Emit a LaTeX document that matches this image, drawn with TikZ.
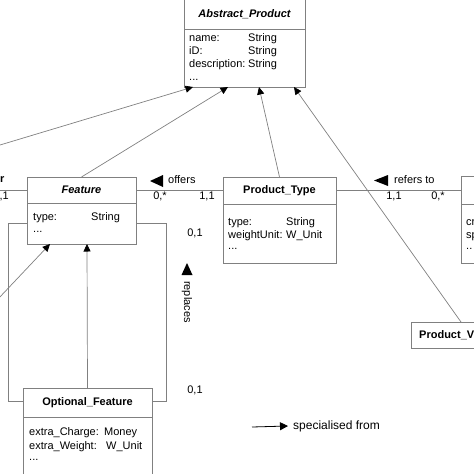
\documentclass[tikz,border=0pt]{standalone}
\usepackage{fontspec}
\setmainfont{Liberation Sans}
\usetikzlibrary{arrows.meta}
\definecolor{linegray}{gray}{0.5}
\begin{document}
\begin{tikzpicture}[x=1pt,y=1pt,
  boxs/.style={draw=linegray, line width=0.7pt, inner sep=0pt, outer sep=0pt, anchor=north west},
  conn/.style={draw=linegray, line width=0.7pt},
  spec/.style={conn, -{Triangle[length=7.5pt,width=7pt,fill=black,color=black]}},
  txt/.style={inner sep=0pt, text height=8pt, text depth=2pt, font=\fontsize{11}{13}\selectfont},
  attr/.style={txt, anchor=west},
  ttl/.style={txt, font=\fontsize{11}{13}\selectfont\bfseries},
  ttli/.style={txt, font=\fontsize{11}{13}\selectfont\bfseries\itshape},
  trifill/.style={fill=black},
]
\useasboundingbox (0,0) rectangle (474,-474);
\clip (0,0) rectangle (474,-474);

% Abstract_Product
\node[boxs, minimum width=121pt, minimum height=89pt] (ap) at (184,2) {};
\draw[conn] (184,-29) -- (305,-29);
\node[ttli] (apt) at (244.5,-14) {Abstract\_Product};
\node[attr] (ap1) at (189,-38) {name:};
\node[attr] (ap1t) at (248,-38) {String};
\node[attr] (ap2) at (189,-51) {iD:};
\node[attr] (ap2t) at (248,-51) {String};
\node[attr] (ap3) at (189,-64) {description:};
\node[attr] (ap3t) at (248,-64) {String};
\node[attr] (ap4) at (189,-77) {...};

% Feature
\node[boxs, minimum width=109pt, minimum height=67pt] (feat) at (27,-177) {};
\draw[conn] (27,-203) -- (136,-203);
\node[ttli] (featt) at (81.5,-190) {Feature};
\node[attr] (f1) at (33,-217) {type:};
\node[attr] (f1t) at (91,-217) {String};
\node[attr] (f2) at (33,-229) {...};

% Product_Type
\node[boxs, minimum width=113pt, minimum height=86pt] (pt) at (223,-177) {};
\draw[conn] (223,-204) -- (336,-204);
\node[ttl] (ptt) at (279.5,-190) {Product\_Type};
\node[attr] (p1) at (228,-222) {type:};
\node[attr] (p1t) at (286,-222) {String};
\node[attr] (p2) at (228,-235) {weightUnit:};
\node[attr] (p2t) at (286,-235) {W\_Unit};
\node[attr] (p3) at (228,-246) {...};

% right box (cut off)
\node[boxs, minimum width=60pt, minimum height=87pt] (rb) at (461,-176) {};
\draw[conn] (461,-204) -- (521,-204);
\node[attr] (r1) at (466,-222) {cr};
\node[attr] (r2) at (466,-235) {sp};
\node[attr] (r3) at (466,-246) {..};

% Product_V (cut off)
\node[boxs, minimum width=80pt, minimum height=26pt] (pv) at (411,-322) {};
\node[ttl, anchor=west] (pvt) at (419,-335) {Product\_V};

% Optional_Feature
\node[boxs, minimum width=129pt, minimum height=100pt] (of) at (23,-388) {};
\draw[conn] (23,-417) -- (152,-417);
\node[ttl] (oft) at (87.5,-402) {Optional\_Feature};
\node[attr] (o1) at (29,-432) {extra\_Charge:};
\node[attr] (o1t) at (104,-432) {Money};
\node[attr] (o2) at (29,-446) {extra\_Weight:};
\node[attr] (o2t) at (106,-446) {W\_Unit};
\node[attr] (o3) at (29,-457) {...};

% free ends
\coordinate (c1) at (-2,-145.6);
\coordinate (c5) at (-2,-299);
\coordinate (c9) at (-2,-190);
\coordinate (lbend) at (8,-401);
\coordinate (rbend) at (166,-401);

% specialisation arrows
\draw[spec] (c1) -- ([xshift=9pt]ap.south west);
\draw[spec] (feat.north) -- ([xshift=44pt]ap.south west);
\draw[spec] (pt.north) -- ([xshift=75pt]ap.south west);
\draw[spec] ([xshift=50pt]pv.north west) -- ([xshift=110pt]ap.south west);
\draw[spec] (c5) -- ([xshift=23pt]feat.south west);
\draw[spec] (of.north) -- ([xshift=60pt]feat.south west);

% associations
\draw[conn] (c9) -- ([yshift=-13pt]feat.north west);
\draw[conn] ([yshift=-13pt]feat.north east) -- ([yshift=-13pt]pt.north west);
\draw[conn] ([yshift=-13pt]pt.north east) -- ([yshift=-14pt]rb.north west);
\draw[conn] ([yshift=-46pt]feat.north west) -| (lbend) -- ([yshift=-13pt]of.north west);
\draw[conn] ([yshift=-46pt]feat.north east) -| (rbend) -- ([yshift=-13pt]of.north east);

% association labels
\node[ttl, anchor=west] (lr) at (0,-179) {r};
\node[txt, anchor=east] (lm) at (9,-196) {1,1};
\fill[trifill] (150,-181) -- (163,-175) -- (163,-187) -- cycle;
\node[attr] (offers) at (168,-180) {offers};
\node[txt] (m1) at (160,-196) {0,*};
\node[txt] (m2) at (207,-196) {1,1};
\fill[trifill] (374,-180.5) -- (388,-175) -- (388,-186) -- cycle;
\node[attr] (refers) at (394,-180) {refers to};
\node[txt] (m3) at (394,-196) {1,1};
\node[txt] (m4) at (438,-196) {0,*};
\node[txt] (m5) at (195,-233) {0,1};
\node[txt] (m6) at (195,-390) {0,1};
\fill[trifill] (187,-263) -- (181.5,-275) -- (192.5,-275) -- cycle;
\node[txt, rotate=-90] (repl) at (187,-302) {replaces};

% legend
\coordinate (lg1) at (252,-427);
\node[txt, anchor=west, font=\fontsize{12}{14}\selectfont] (lgtext) at (293,-426) {specialised from};
\draw[line width=0.8pt, -{Triangle[length=8pt,width=8pt,fill=black,color=black]}] (lg1) -- ([xshift=-5pt]lgtext.west);
\end{tikzpicture}
\end{document}
